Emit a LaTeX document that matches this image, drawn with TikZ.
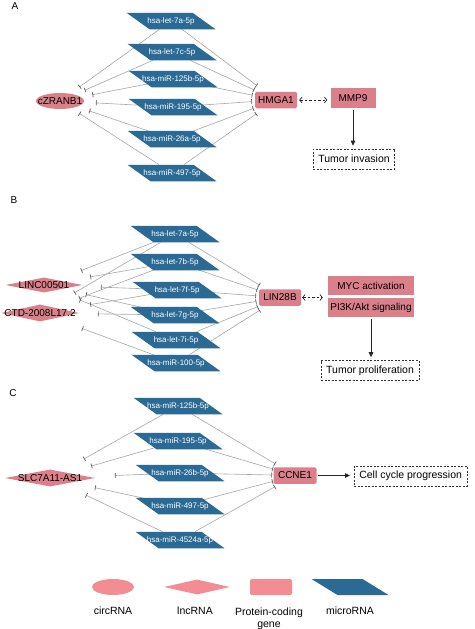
\documentclass[tikz,border=0pt]{standalone}
\usepackage{fontspec}
\setmainfont{Liberation Sans}
\usetikzlibrary{shapes.geometric,arrows.meta,backgrounds,positioning}

\definecolor{mirblue}{HTML}{2B6A94}
\definecolor{genepink}{HTML}{DB808A}
\definecolor{legpink}{HTML}{F28E93}
\definecolor{edgegray}{HTML}{A6A6A6}

\tikzset{
	mirna/.style={rectangle, minimum width=43pt, minimum height=16.5pt, inner sep=0pt, text=white, font=\fontsize{8}{9}\selectfont},
	circ/.style={ellipse, fill=genepink, minimum width=48pt, minimum height=16pt, inner sep=0pt, font=\fontsize{10}{12}\selectfont},
	lnc/.style={diamond, fill=genepink, inner sep=0pt, font=\fontsize{10}{12}\selectfont},
	gene/.style={rectangle, rounded corners=1.5pt, fill=genepink, minimum width=42pt, minimum height=16.5pt, inner xsep=3pt, inner ysep=0pt, font=\fontsize{10}{12}\selectfont},
	effect/.style={rectangle, fill=genepink, minimum width=86pt, minimum height=19pt, inner sep=0pt, font=\fontsize{10}{12}\selectfont},
	outcome/.style={draw=black!80, dash pattern=on 2pt off 1.5pt, line width=0.6pt, minimum height=20pt, inner xsep=5pt, inner ysep=0pt, font=\fontsize{10.5}{12}\selectfont},
	inhib/.style={edgegray, line width=0.6pt, -{Bar[width=5pt,line width=0.7pt,color=black!65]}},
	link/.style={black!85, line width=0.7pt, dash pattern=on 2.5pt off 2pt, {Straight Barb[length=2.5pt,width=6pt]}-{Straight Barb[length=2.5pt,width=6pt]}},
	lead/.style={black!85, line width=0.8pt, -{Triangle[length=5pt,width=4.5pt]}},
	panel/.style={font=\fontsize{10}{12}\selectfont},
	leglabel/.style={font=\fontsize{10.5}{12}\selectfont, align=center}
}

% slanted microRNA box: name, centre, label
\newcommand{\mirbox}[3]{%
	\fill[mirblue] (#2) ++(-44.5,-8.25) -- ++(66,0) -- ++(23,16.5) -- ++(-66,0) -- cycle;
	\node[mirna] (#1) at (#2) {\makebox[0pt]{#3}};
}

\begin{document}
\begin{tikzpicture}[x=1pt,y=-1pt]
	\useasboundingbox (0,0) rectangle (474,629);

	% panel A
	\node[panel] (labA) at (15,6) {A};
	\mirbox{mA1}{171,21}{hsa-let-7a-5p}
	\mirbox{mA2}{172,52}{hsa-let-7c-5p}
	\mirbox{mA3}{173,79}{hsa-miR-125b-5p}
	\mirbox{mA4}{173,107}{hsa-miR-195-5p}
	\mirbox{mA5}{172,139}{hsa-miR-26a-5p}
	\mirbox{mA6}{172,173}{hsa-miR-497-5p}
	\node[circ] (czranb1) at (60,101) {\makebox[0pt]{cZRANB1}};
	\node[gene] (hmga1) at (276,100) {HMGA1};
	\node[gene, minimum width=45pt, minimum height=20pt, rounded corners=0pt] (mmp9) at (353,98) {MMP9};
	\node[outcome] (invasion) at (354,159) {Tumor invasion};

	\draw[link, shorten <=2pt, shorten >=3pt] (hmga1) -- (hmga1 -| mmp9.west);
	\draw[lead, shorten <=2pt, shorten >=3pt] (mmp9.south) -- (mmp9.south |- invasion.north);

	% panel B
	\node[panel] (labB) at (14,200) {B};
	\mirbox{mB1}{175,234}{hsa-let-7a-5p}
	\mirbox{mB2}{175,262}{hsa-let-7b-5p}
	\mirbox{mB3}{177,290}{hsa-let-7f-5p}
	\mirbox{mB4}{175,315}{hsa-let-7g-5p}
	\mirbox{mB5}{176,340}{hsa-let-7i-5p}
	\mirbox{mB6}{176,363}{hsa-miR-100-5p}
	\node[lnc, minimum width=77pt, minimum height=15pt] (linc) at (44,285) {\makebox[0pt]{LINC00501}};
	\node[lnc, minimum width=78pt, minimum height=17pt] (ctd) at (40,313) {\makebox[0pt]{CTD-2008L17.2}};
	\node[gene] (lin28b) at (280,297.5) {LIN28B};
	\node[effect] (myc) at (371,285.5) {MYC activation};
	\node[effect] (pi3k) at (371,307.5) {PI3K/Akt signaling};
	\node[outcome] (prolif) at (370,370.5) {Tumor proliferation};

	\draw[link, shorten <=1pt, shorten >=5pt] (lin28b) -- (lin28b -| myc.west);
	\draw[lead, shorten <=2pt, shorten >=3pt] (pi3k.south) -- (pi3k.south |- prolif.north);

	% panel C
	\node[panel] (labC) at (13,393) {C};
	\mirbox{mC1}{178,406}{hsa-miR-125b-5p}
	\mirbox{mC2}{178,441}{hsa-miR-195-5p}
	\mirbox{mC3}{180,473}{hsa-miR-26b-5p}
	\mirbox{mC4}{180,506}{hsa-miR-497-5p}
	\mirbox{mC5}{180,540}{hsa-miR-4524a-5p}
	\node[lnc, minimum width=90pt, minimum height=17pt] (slc) at (50,478) {\makebox[0pt]{SLC7A11-AS1}};
	\node[gene, minimum width=43pt] (ccne1) at (295,475.5) {CCNE1};
	\node[outcome, anchor=west] (cellcycle) at (354,476) {Cell cycle progression};

	\draw[lead, shorten <=1pt, shorten >=4pt] (ccne1) -- (ccne1 -| cellcycle.west);

	% edges behind the nodes
	\begin{scope}[on background layer]
		\draw[inhib, shorten >=24pt] (mA1) -- (czranb1.center);
		\draw[inhib, shorten >=27pt] (mA2) -- (czranb1.center);
		\draw[inhib, shorten >=33pt] (mA3) -- (czranb1.center);
		\draw[inhib, shorten >=36pt] (mA4) -- (czranb1.center);
		\draw[inhib, shorten >=31pt] (mA5) -- (czranb1.center);
		\draw[inhib, shorten >=23pt] (mA6) -- (czranb1.center);
		\foreach \m in {mA1,mA2,mA3,mA4,mA5,mA6}
			\draw[inhib, shorten >=24pt] (\m) -- (hmga1.center);

		\draw[inhib, shorten >=40pt] (mB1) -- (linc.center);
		\draw[inhib, shorten >=47pt] (mB2) -- (linc.center);
		\draw[inhib, shorten >=57pt] (mB3) -- (linc.center);
		\draw[inhib, shorten >=43pt] (mB4) -- (linc.center);
		\draw[inhib, shorten >=39pt] (mB5) -- (linc.center);
		\draw[inhib, shorten >=40pt] (mB1) -- (ctd.center);
		\draw[inhib, shorten >=42pt] (mB2) -- (ctd.center);
		\draw[inhib, shorten >=51pt] (mB3) -- (ctd.center);
		\draw[inhib, shorten >=58pt] (mB4) -- (ctd.center);
		\draw[inhib, shorten >=45pt] (mB6) -- (ctd.center);
		\foreach \m in {mB1,mB2,mB3,mB4,mB5,mB6}
			\draw[inhib, shorten >=24pt] (\m) -- (lin28b.center);

		\draw[inhib, shorten >=39pt] (mC1) -- (slc.center);
		\draw[inhib, shorten >=43pt] (mC2) -- (slc.center);
		\draw[inhib, shorten >=65pt] (mC3) -- (slc.center);
		\draw[inhib, shorten >=46pt] (mC4) -- (slc.center);
		\draw[inhib, shorten >=40pt] (mC5) -- (slc.center);
		\foreach \m in {mC1,mC2,mC3,mC4,mC5}
			\draw[inhib, shorten >=23pt] (\m) -- (ccne1.center);
	\end{scope}

	% legend
	\node[circ, fill=legpink, minimum width=42pt] (legcirc) at (113,587) {};
	\node[lnc, fill=legpink, minimum width=66pt, minimum height=15pt] (leglnc) at (197,587) {};
	\node[gene, fill=legpink, minimum height=16pt] (leggene) at (271,587) {};
	\coordinate (legmir) at (350,587);
	\fill[mirblue] (legmir) ++(-38.5,-8) -- ++(51,0) -- ++(26,16) -- ++(-51,0) -- cycle;
	\node[leglabel] (labcirc) at (113,611) {circRNA};
	\node[leglabel] (lablnc) at (195,611) {lncRNA};
	\node[leglabel, anchor=north] (labgene) at (269,604) {Protein-coding\\gene};
	\node[leglabel] (labmir) at (350,611) {microRNA};

\end{tikzpicture}
\end{document}
